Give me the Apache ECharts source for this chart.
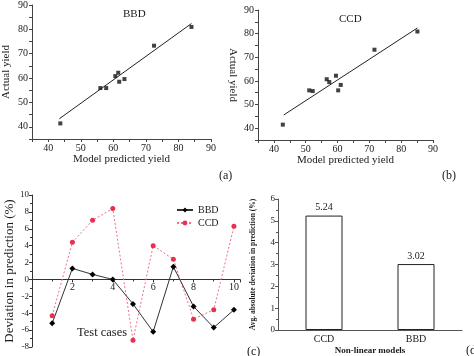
<!DOCTYPE html>
<html><head><meta charset="utf-8">
<script src="https://cdn.jsdelivr.net/npm/echarts@6/dist/echarts.min.js"></script>
<style>html,body{margin:0;padding:0;background:#fff}#c{width:474px;height:356px}</style>
</head><body><div id="c"></div>
<script>
// Panel (a) BBD
const bbdPredicted = [43.7, 56.0, 57.8, 60.6, 61.5, 61.8, 63.4, 72.5, 84.0];
const bbdActual    = [41.4, 55.9, 55.9, 60.8, 62.2, 58.5, 59.6, 73.3, 81.0];
const bbdFitX = [43.4, 84.0];
const bbdFitY = [43.3, 82.4];
// Panel (b) CCD
const ccdPredicted = [42.8, 51.1, 52.2, 56.6, 57.4, 59.5, 60.2, 61.0, 71.6, 85.1];
const ccdActual    = [41.5, 56.0, 55.7, 60.7, 59.5, 62.2, 56.0, 58.3, 73.2, 80.9];
const ccdFitX = [43.1, 85.1];
const ccdFitY = [45.6, 82.4];
// Panel (c)
const testCases = [1, 2, 3, 4, 5, 6, 7, 8, 9, 10];
const bbdDeviation = [-5.2, 1.3, 0.6, 0.0, -2.9, -6.2, 1.5, -3.2, -5.7, -3.6];
const ccdDeviation = [-4.3, 4.4, 7.0, 8.4, -7.2, 4.0, 2.4, -4.7, -3.6, 6.3];
// Panel (d)
const models = ['CCD', 'BBD'];
const avgAbsDeviation = [5.24, 3.02];

const FONT = 'Liberation Serif';
const INK = '#1a1a1a';
const zip = (a, b) => a.map((v, i) => [v, b[i]]);

function yieldAxis(gi, name, gap, opts) {
  return Object.assign({
    type: 'value', gridIndex: gi, min: 35, max: 90, interval: 5,
    name: name, nameLocation: 'middle', nameGap: gap,
    nameTextStyle: { fontFamily: FONT, fontSize: 11, color: INK },
    axisLine: { show: true, onZero: false, lineStyle: { color: '#444', width: 1 } },
    axisTick: { show: true, length: 3, lineStyle: { color: '#444' } },
    axisLabel: { fontFamily: FONT, fontSize: 10, color: INK, margin: 4,
      formatter: v => (v % 10 === 0 ? String(v) : '') },
    splitLine: { show: false }
  }, opts || {});
}

// grid (c) geometry, used to place the x axis on the zero line
const cTop = 195, cHeight = 152, cMin = -8, cMax = 10;
const zeroOffset = -cHeight * (0 - cMin) / (cMax - cMin);

const chart = echarts.init(document.getElementById('c'), null, { renderer: 'canvas' });
chart.setOption({
  backgroundColor: '#fff',
  animation: false,
  textStyle: { fontFamily: FONT },
  title: [
    { text: 'BBD', left: 118, top: 4, textStyle: { fontFamily: FONT, fontSize: 11, fontWeight: 'normal', color: INK } },
    { text: 'CCD', left: 334, top: 9, textStyle: { fontFamily: FONT, fontSize: 11, fontWeight: 'normal', color: INK } },
    { text: '(a)', left: 214, top: 165, textStyle: { fontFamily: FONT, fontSize: 12, fontWeight: 'normal', color: INK } },
    { text: '(b)', left: 437, top: 165, textStyle: { fontFamily: FONT, fontSize: 12, fontWeight: 'normal', color: INK } },
    { text: 'Test cases', left: 72, top: 321, textStyle: { fontFamily: FONT, fontSize: 12.5, fontWeight: 'normal', color: INK } },
    { text: '(c)', left: 242, top: 341, textStyle: { fontFamily: FONT, fontSize: 12, fontWeight: 'normal', color: INK } },
    { text: '(d)', left: 461, top: 340, textStyle: { fontFamily: FONT, fontSize: 12, fontWeight: 'normal', color: INK } }
  ],
  legend: {
    orient: 'vertical', left: 171, top: 200, itemWidth: 16, itemHeight: 6, itemGap: 3,
    textStyle: { fontFamily: FONT, fontSize: 10, color: INK },
    data: ['BBD', 'CCD']
  },
  grid: [
    { left: 32, top: 5, width: 179, height: 134 },
    { left: 258, top: 10, width: 175, height: 130 },
    { left: 32, top: cTop, width: 208, height: cHeight },
    { left: 278, top: 199, width: 184, height: 131 }
  ],
  xAxis: [
    yieldAxis(0, 'Model predicted yield', 13),
    yieldAxis(1, 'Model predicted yield', 14),
    {
      type: 'value', gridIndex: 2, min: 0, max: 10.3, interval: 2,
      position: 'bottom', offset: zeroOffset,
      axisLine: { show: true, onZero: false, lineStyle: { color: '#333' } },
      axisTick: { show: true, length: 3, lineStyle: { color: '#333' } },
      minorTick: { show: true, splitNumber: 2, length: 2, lineStyle: { color: '#333' } },
      axisLabel: { fontFamily: FONT, fontSize: 10, color: INK, margin: 3,
        formatter: v => (v > 0 && v % 2 === 0 ? String(v) : '') },
      splitLine: { show: false }
    },
    {
      type: 'category', gridIndex: 3, data: models,
      name: 'Non-linear models', nameLocation: 'middle', nameGap: 16,
      nameTextStyle: { fontFamily: FONT, fontSize: 9, fontWeight: 'bold', color: INK },
      axisLine: { show: true, lineStyle: { color: '#555' } },
      axisTick: { show: false },
      axisLabel: { fontFamily: FONT, fontSize: 10, color: INK, margin: 4 }
    }
  ],
  yAxis: [
    yieldAxis(0, 'Actual yield', 20),
    yieldAxis(1, 'Actual yield', 20, { nameRotate: -90 }),
    {
      type: 'value', gridIndex: 2, min: cMin, max: cMax, interval: 2,
      name: 'Deviation in prediction (%)', nameLocation: 'middle', nameGap: 16,
      nameTextStyle: { fontFamily: FONT, fontSize: 13, color: INK },
      axisLine: { show: true, onZero: false, lineStyle: { color: '#333' } },
      axisTick: { show: true, length: 3, lineStyle: { color: '#333' } },
      minorTick: { show: true, splitNumber: 2, length: 2, lineStyle: { color: '#333' } },
      axisLabel: { fontFamily: FONT, fontSize: 9, color: INK, margin: 3 },
      splitLine: { show: false }
    },
    {
      type: 'value', gridIndex: 3, min: 0, max: 6, interval: 1,
      name: 'Avg. absolute deviation in prediction (%)', nameLocation: 'middle', nameGap: 21,
      nameTextStyle: { fontFamily: FONT, fontSize: 7.5, fontWeight: 'bold', color: INK },
      axisLine: { show: true, lineStyle: { color: '#555' } },
      axisTick: { show: true, length: 3, lineStyle: { color: '#555' } },
      minorTick: { show: true, splitNumber: 2, length: 2, lineStyle: { color: '#555' } },
      axisLabel: { fontFamily: FONT, fontSize: 9, color: INK, margin: 3 },
      splitLine: { show: false }
    }
  ],
  series: [
    { type: 'scatter', xAxisIndex: 0, yAxisIndex: 0, data: zip(bbdPredicted, bbdActual),
      symbol: 'rect', symbolSize: 4, itemStyle: { color: '#111' }, z: 3 },
    { type: 'line', xAxisIndex: 0, yAxisIndex: 0, data: zip(bbdFitX, bbdFitY),
      showSymbol: false, lineStyle: { color: '#222', width: 1 } },
    { type: 'scatter', xAxisIndex: 1, yAxisIndex: 1, data: zip(ccdPredicted, ccdActual),
      symbol: 'rect', symbolSize: 4, itemStyle: { color: '#111' }, z: 3 },
    { type: 'line', xAxisIndex: 1, yAxisIndex: 1, data: zip(ccdFitX, ccdFitY),
      showSymbol: false, lineStyle: { color: '#222', width: 1 } },
    { name: 'CCD', type: 'line', xAxisIndex: 2, yAxisIndex: 2, data: zip(testCases, ccdDeviation),
      symbol: 'circle', symbolSize: 5, itemStyle: { color: '#e8304f' },
      lineStyle: { color: '#ef6f88', width: 1, type: [2, 2] } },
    { name: 'BBD', type: 'line', xAxisIndex: 2, yAxisIndex: 2, data: zip(testCases, bbdDeviation),
      symbol: 'diamond', symbolSize: 6, itemStyle: { color: '#000' },
      lineStyle: { color: '#333', width: 1 } },
    { type: 'bar', xAxisIndex: 3, yAxisIndex: 3, data: avgAbsDeviation, barWidth: 37,
      itemStyle: { color: '#fff', borderColor: '#222', borderWidth: 1 },
      label: { show: true, position: 'top', distance: 3, fontFamily: FONT, fontSize: 10, color: INK,
        formatter: p => p.value.toFixed(2) } }
  ]
});
</script>
</body></html>
